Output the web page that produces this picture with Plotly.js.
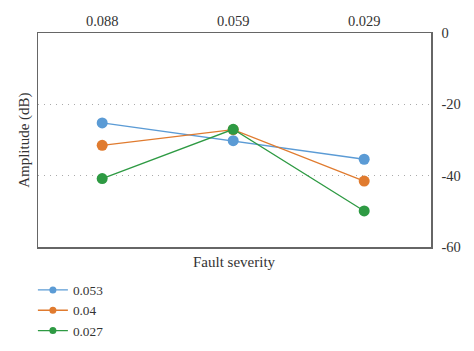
<!DOCTYPE html>
<html><head><meta charset="utf-8">
<script src="https://cdn.plot.ly/plotly-3.0.1.min.js"></script>
<style>html,body{margin:0;padding:0;background:#fff}#c{width:474px;height:351px}</style>
</head><body><div id="c"></div>
<script>
const categories = ["0.088", "0.059", "0.029"];
const seriesNames = ["0.053", "0.04", "0.027"];
const values053 = [-25.2, -30.2, -35.4];
const values040 = [-31.5, -27.1, -41.5];
const values027 = [-40.8, -27.0, -49.9];
const yTickVals = [0, -20, -40, -60];
const yTickText = ["0", "-20", "-40", "-60"];
const colors = ["#5b9bd5", "#e07b2f", "#2e9a43"];

const font = "Liberation Serif, Times New Roman, serif";
const all = [values053, values040, values027];
const traces = all.map((v, i) => ({
  x: categories, y: v, name: seriesNames[i], type: "scatter", mode: "lines+markers",
  line: {color: colors[i], width: 1.3},
  marker: {color: colors[i], size: 11},
  showlegend: false
}));
// legend-only entries (no data marks) with smaller symbols
seriesNames.forEach((n, i) => traces.push({
  x: [null], y: [null], name: n, type: "scatter", mode: "lines+markers",
  line: {color: colors[i], width: 1.3}, marker: {color: colors[i], size: 7},
  showlegend: true
}));

const layout = {
  width: 474, height: 351,
  margin: {l: 38, r: 43, t: 33, b: 104, autoexpand: false},
  paper_bgcolor: "#fff", plot_bgcolor: "#fff",
  font: {family: font, size: 14.5, color: "#333"},
  showlegend: true,
  legend: {x: -0.013, xanchor: "left", y: -0.13, yanchor: "top", orientation: "v",
           font: {family: font, size: 13.3, color: "#333"}, tracegroupgap: 0, itemwidth: 30},
  xaxis: {type: "category", side: "top", range: [-0.49, 2.51], showline: true, mirror: true,
          linecolor: "#666", linewidth: 1.5, showgrid: false, ticks: "", zeroline: false,
          tickfont: {family: font, size: 14.5, color: "#333"}},
  yaxis: {side: "right", range: [-60, 0], tickvals: yTickVals, ticktext: yTickText,
          showline: true, mirror: true, linecolor: "#666", linewidth: 1.5,
          showgrid: true, gridcolor: "#aaa", griddash: "1px,5px", gridwidth: 1,
          zeroline: false, ticks: "", ticklabelstandoff: 6,
          tickfont: {family: font, size: 14.5, color: "#333"}},
  annotations: [
    {text: "Amplitude (dB)", xref: "paper", yref: "paper", x: -0.036, y: 0.5,
     xanchor: "center", yanchor: "middle", textangle: -90, showarrow: false,
     font: {family: font, size: 15, color: "#333"}},
    {text: "Fault severity", xref: "paper", yref: "paper", x: 0.5, y: -0.025,
     xanchor: "center", yanchor: "top", showarrow: false,
     font: {family: font, size: 15, color: "#333"}}
  ]
};
Plotly.newPlot("c", traces, layout, {displayModeBar: false, staticPlot: true});
</script></body></html>
